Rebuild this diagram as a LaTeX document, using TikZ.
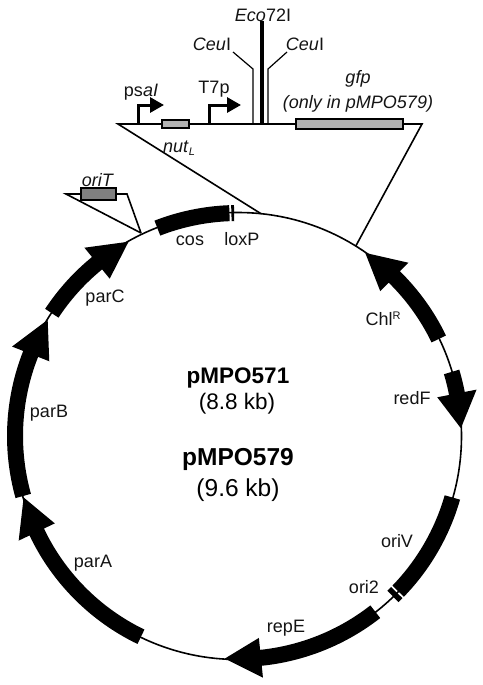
\documentclass[tikz,border=0pt]{standalone}
\usepackage{fontspec}
\setmainfont{Liberation Sans}
\usetikzlibrary{arrows.meta}
\newcommand{\GeneArrow}[3]{%
  \fill[gene] (#1:215pt) arc[start angle=#1,end angle=#2,radius=215pt]
    -- (#2:203pt) -- (#3:223pt) -- (#2:243pt) -- (#2:231pt)
    arc[start angle=#2,end angle=#1,radius=231pt] -- cycle;}
\newcommand{\GeneBlock}[2]{%
  \fill[gene] (#1:215pt) arc[start angle=#1,end angle=#2,radius=215pt]
    -- (#2:231pt) arc[start angle=#2,end angle=#1,radius=231pt] -- cycle;}
\tikzset{
  gene/.style={black},
  lbl/.style={font=\fontsize{18}{25}\selectfont,inner sep=0pt,text=black!92},
  title/.style={font=\fontsize{#1}{#1}\selectfont\bfseries,inner sep=0pt},
  sub/.style={font=\fontsize{#1}{#1}\selectfont,inner sep=0pt},
  backbone/.style={line width=1.6pt,black},
  promoter/.style={line width=3pt,-{Triangle[length=14pt,width=15pt]}},
  hatchbox/.style={draw=black,line width=1.5pt,fill=black!30,inner sep=0pt,minimum height=#1},
  cutsite/.style={line width=1.2pt},
}
\begin{document}
\begin{tikzpicture}[x=1pt,y=-1pt]
\useasboundingbox (0,0) rectangle (482,685);
% plasmid
\begin{scope}[shift={(238,436)}]
  \draw[backbone] (0,0) circle[radius=223.5pt];
  \GeneArrow{25.8}{45.5}{55.2}
  \GeneArrow{16.7}{11}{2}
  \GeneBlock{-16}{-44.1}
  \GeneBlock{-44.6}{-46}
  \GeneArrow{-52}{-84.1}{-93.4}
  \GeneArrow{-115.8}{-154.5}{-164}
  \GeneArrow{195.6}{158.4}{148.6}
  \GeneArrow{146.6}{129.2}{119.4}
  \GeneBlock{111.2}{92.2}
  \GeneBlock{91.7}{91}
  \coordinate (fL) at (84.1:223.5pt);
  \coordinate (fR) at (58.2:223.5pt);
  \coordinate (fT) at (114:223.5pt);
\end{scope}
% insert map
\coordinate (iL) at (118,124);
\coordinate (iR) at (422,124);
\draw[backbone] (fL) -- (iL) -- (iR) -- (fR);
\node[hatchbox=8pt,minimum width=27pt] (nut) at (175.5,124) {};
\node[hatchbox=10pt,minimum width=107pt] (gfp) at (349.5,124) {};
\coordinate (p1) at (138,124); \coordinate (p1t) at (164,105);
\coordinate (p2) at (209,124); \coordinate (p2t) at (241,105);
\draw[promoter] (p1) |- (p1t);
\draw[promoter] (p2) |- (p2t);
\coordinate (eT) at (262,21); \coordinate (eB) at (262,124);
\draw[line width=3.5pt] (eB) -- (eT);
\coordinate (c1a) at (253,124); \coordinate (c1b) at (253,69); \coordinate (c1c) at (233,52);
\coordinate (c2a) at (268,124); \coordinate (c2b) at (268,69); \coordinate (c2c) at (287,52);
\draw[cutsite] (c1a) -- (c1b) -- (c1c);
\draw[cutsite] (c2a) -- (c2b) -- (c2c);
% oriT inset
\coordinate (oL) at (66,194); \coordinate (oR) at (127,194); \coordinate (oE) at (141,233);
\draw[backbone] (oE) -- (oL) -- (oR) -- (oE);
\node[hatchbox=12pt,minimum width=35pt,fill=black!50] (orit) at (98.5,194) {};
% labels
\node[lbl] (tEco) at (263,15) {\textit{Eco}72I};
\node[lbl] (tC1) at (212,44) {\textit{Ceu}I};
\node[lbl] (tC2) at (305,44) {\textit{Ceu}I};
\node[lbl] (tpsa) at (141,92) {ps\textit{aI}};
\node[lbl] (tT7) at (214,89) {T7p};
\node[lbl,align=center] (tgfp) at (358,91) {\textit{gfp}\\\textit{(only in pMPO579)}};
\node[lbl] (tnut) at (179,148) {\textit{nut}\raisebox{-3pt}{\fontsize{11}{11}\selectfont\textit{L}}};
\node[lbl] (toriT) at (98,180) {\textit{oriT}};
\node[lbl] at (190,241) {cos};
\node[lbl] at (242,239) {loxP};
\node[lbl] at (383,319) {Chl\raisebox{6pt}{\fontsize{11}{11}\selectfont R}};
\node[lbl] at (412,398) {redF};
\node[lbl] at (397,541) {oriV};
\node[lbl] at (364,587) {ori2};
\node[lbl] at (286,628) {repE};
\node[lbl] at (93,563) {parA};
\node[lbl] at (49,413) {parB};
\node[lbl] at (105,298) {parC};
\node[title=22.5] at (238,378) {pMPO571};
\node[sub=22.5] at (237,404) {(8.8 kb)};
\node[title=24.5] at (238,459) {pMPO579};
\node[sub=24.5] at (238,490) {(9.6 kb)};
\end{tikzpicture}
\end{document}
